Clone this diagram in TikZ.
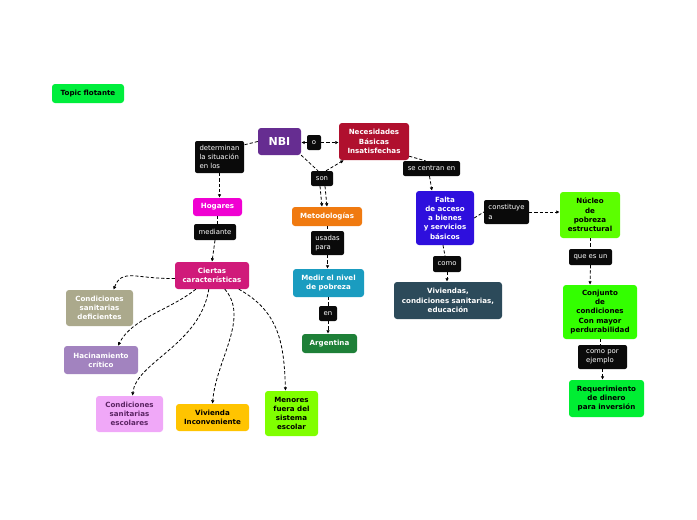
\documentclass[tikz,border=0pt]{standalone}
\usepackage{fontspec}
\setmainfont{DejaVu Sans}
\usetikzlibrary{arrows.meta,calc}
\begin{document}
\begin{tikzpicture}[x=1pt,y=-1pt,
  box/.style={rounded corners=3pt,inner sep=0pt,align=center,font=\fontsize{7.1}{9.2}\selectfont\bfseries,text=white},
  lbl/.style={rounded corners=2pt,inner sep=0pt,fill=lblc,text=white,font=\fontsize{6.9}{9.2}\selectfont},
  lbll/.style={lbl,align=left},
  con/.style={draw=black,line width=0.8pt,dash pattern=on 3.2pt off 2pt},
  arr/.style={con,-{Latex[length=3.5pt,width=3.5pt]}}
]
\definecolor{lblc}{HTML}{0A0A0A}
\definecolor{cTopic}{HTML}{00EE3C}
\definecolor{cNBI}{HTML}{662D91}
\definecolor{cNec}{HTML}{B0102E}
\definecolor{cHog}{HTML}{F000D2}
\definecolor{cMet}{HTML}{F07A10}
\definecolor{cFal}{HTML}{2E0FDD}
\definecolor{cNuc}{HTML}{5CFF00}
\definecolor{cCie}{HTML}{D01A7A}
\definecolor{cMed}{HTML}{1A9CC0}
\definecolor{cViv}{HTML}{2C4A5A}
\definecolor{cCsd}{HTML}{ABA98C}
\definecolor{cArg}{HTML}{1E8038}
\definecolor{cCon}{HTML}{33FF00}
\definecolor{cHac}{HTML}{A283BF}
\definecolor{cReq}{HTML}{00EE33}
\definecolor{cCse}{HTML}{F0A8F8}
\definecolor{cCseT}{HTML}{5B2463}
\definecolor{cVvi}{HTML}{FFC400}
\definecolor{cMen}{HTML}{80FF00}

\useasboundingbox[fill=white] (0,0) rectangle (697,520);

% main boxes
\node[box,fill=cTopic,text=black,minimum width=72,minimum height=19] (topic) at (88,93.5) {Topic flotante};
\node[box,fill=cNBI,minimum width=43,minimum height=27,font=\fontsize{11}{13}\selectfont\bfseries] (nbi) at (279.5,141.5) {NBI};
\node[box,fill=cNec,minimum width=70,minimum height=37] (nec) at (374,141.5) {Necesidades\\Básicas\\Insatisfechas};
\node[box,fill=cHog,minimum width=49,minimum height=18] (hog) at (217.5,207) {Hogares};
\node[box,fill=cMet,minimum width=70,minimum height=19] (met) at (327,216.5) {Metodologías};
\node[box,fill=cFal,minimum width=58,minimum height=54] (fal) at (445,218) {Falta\\de acceso\\a bienes\\y servicios\\básicos};
\node[box,fill=cNuc,text=black,minimum width=60,minimum height=46] (nuc) at (590,215) {Núcleo\\de\\pobreza\\estructural};
\node[box,fill=cCie,minimum width=74,minimum height=27] (cie) at (212,275.5) {Ciertas\\características};
\node[box,fill=cMed,minimum width=71,minimum height=28] (med) at (328.5,283) {Medir el nivel\\de pobreza};
\node[box,fill=cViv,minimum width=108,minimum height=37] (viv) at (448,300.5) {Viviendas,\\condiciones sanitarias,\\educación};
\node[box,fill=cCsd,minimum width=67,minimum height=36] (csd) at (99.5,308) {Condiciones\\sanitarias\\deficientes};
\node[box,fill=cArg,minimum width=55,minimum height=19] (arg) at (329.5,343.5) {Argentina};
\node[box,fill=cCon,text=black,minimum width=74,minimum height=54] (con) at (600,312) {Conjunto\\de\\condiciones\\Con mayor\\perdurabilidad};
\node[box,fill=cHac,minimum width=74,minimum height=28] (hac) at (101,360) {Hacinamiento\\crítico};
\node[box,fill=cReq,text=black,minimum width=75,minimum height=37] (req) at (606.5,398.5) {Requerimiento\\de dinero\\para inversión};
\node[box,fill=cCse,text=cCseT,minimum width=67,minimum height=36] (cse) at (129.5,414) {Condiciones\\sanitarias\\escolares};
\node[box,fill=cVvi,text=black,minimum width=73,minimum height=27] (vvi) at (212.5,417.5) {Vivienda\\Inconveniente};
\node[box,fill=cMen,text=black,minimum width=53,minimum height=45] (men) at (291.5,413.5) {Menores\\fuera del\\sistema\\escolar};

% linking labels
\node[lbl,minimum width=14,minimum height=15] (o) at (314,142.5) {o};
\node[lbll,minimum width=49,minimum height=32] (det) at (219.5,157) {determinan\\la situación\\en los};
\node[lbl,minimum width=22,minimum height=15] (son) at (322,178.5) {son};
\node[lbl,minimum width=57,minimum height=15] (cen) at (431.5,168.5) {se centran en};
\node[lbl,minimum width=42,minimum height=16] (mdt) at (215,232) {mediante};
\node[lbll,minimum width=33,minimum height=24] (usa) at (327.5,243) {usadas\\para};
\node[lbll,minimum width=45,minimum height=24] (cst) at (506.5,212) {constituye\\a};
\node[lbl,minimum width=28,minimum height=16] (como) at (447,264) {como};
\node[lbl,minimum width=43,minimum height=16] (que) at (590.5,257) {que es un};
\node[lbl,minimum width=18,minimum height=15] (en) at (328,313.5) {en};
\node[lbll,minimum width=49,minimum height=24] (cpe) at (602.5,357) {como por\\ejemplo};

% connectors
\draw[arr] (o.west) -- (nbi.east |- o.west);
\draw[arr] (o.east) -- (nec.west |- o.east);
\draw[con] (nbi.west) -- ($(det.north east)+(0,4)$);
\draw[arr] (det.south) -- (det.south |- hog.north);
\draw[con] (nbi.south east) -- ($(son.north)+(-4,0)$);
\draw[arr] ($(son.north)+(4,0)$) -- ($(nec.south west)+(5,0)$);
\draw[arr] ($(son.south)+(-2,0)$) -- ($(met.north)+(-5,0)$);
\draw[arr] ($(son.south)+(3,0)$) -- ($(met.north)+(0,0)$);
\draw[con] ($(nec.south east)+(0,-4)$) -- ($(cen.north)+(-6,0)$);
\draw[arr] ($(cen.south)+(-2,0)$) -- ($(fal.north)+(-13,0)$);
\draw[con] (hog.south) -- (hog.south |- mdt.north);
\draw[arr] (mdt.south) -- (cie.north);
\draw[con] (met.south) -- (met.south |- usa.north);
\draw[arr] (usa.south) -- (usa.south |- med.north);
\draw[con] (med.south) -- (med.south |- en.north);
\draw[arr] (en.south) -- (en.south |- arg.north);
\draw[con] ($(fal.south)+(-2,0)$) -- ($(como.north)+(-2,0)$);
\draw[arr] (como.south) -- (como.south |- viv.north);
\draw[con] ($(fal.east)+(0,0)$) -- (cst.west);
\draw[arr] (cst.east) -- (nuc.west |- cst.east);
\draw[con] (nuc.south) -- (nuc.south |- que.north);
\draw[arr] (que.south) -- ($(con.north)+(-10,0)$);
\draw[con] (con.south) -- (con.south |- cpe.north);
\draw[arr] (cpe.south) -- (cpe.south |- req.north);

\coordinate (c1) at ($(cie.south west)+(21,0)$);
\coordinate (c2) at ($(cie.south west)+(34,0)$);
\coordinate (c3) at ($(cie.south west)+(50,0)$);
\coordinate (c4) at ($(cie.south west)+(64,0)$);
\draw[arr] ($(cie.west)+(0,3)$) .. controls (135,279) and (122,268) .. ($(csd.north)+(14,0)$);
\draw[arr] (c1) .. controls (170,310) and (132,318) .. ($(hac.north)+(17,0)$);
\draw[arr] (c2) .. controls (200,345) and (136,362) .. ($(cse.north)+(3,0)$);
\draw[arr] (c3) .. controls (250,318) and (216,360) .. (vvi.north);
\draw[arr] (c4) .. controls (280,312) and (284,345) .. ($(men.north)+(-6,0)$);
\end{tikzpicture}
\end{document}
